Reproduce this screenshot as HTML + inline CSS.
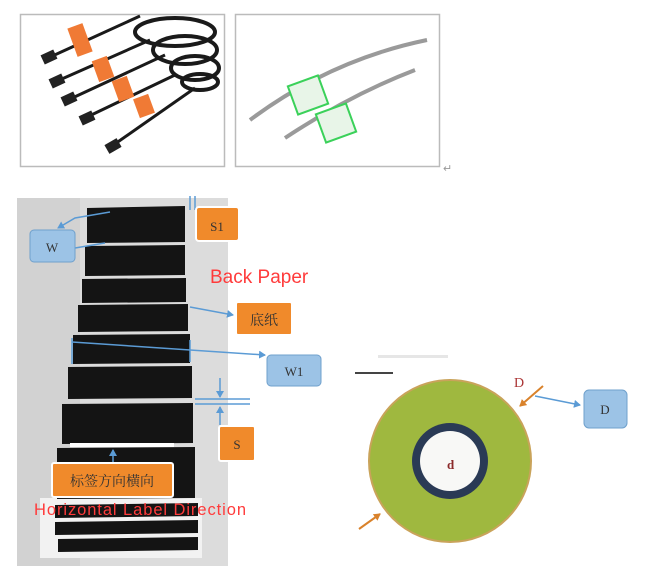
<!DOCTYPE html>
<html><head><meta charset="utf-8"><style>
html,body{margin:0;padding:0;background:#fff;width:650px;height:571px;overflow:hidden}
svg{display:block}
text{font-family:"Liberation Serif","Noto Serif CJK SC",serif}
text.sans{font-family:"Liberation Sans",sans-serif}
</style></head><body>
<svg width="650" height="571" viewBox="0 0 650 571" xmlns="http://www.w3.org/2000/svg">
<defs>
<marker id="ab" markerWidth="8" markerHeight="8" refX="6" refY="4" orient="auto" markerUnits="userSpaceOnUse"><path d="M0,0 L7,4 L0,8 Z" fill="#5b9bd5"/></marker>
<marker id="ao" markerWidth="8" markerHeight="8" refX="6" refY="4" orient="auto" markerUnits="userSpaceOnUse"><path d="M0,0 L7,4 L0,8 Z" fill="#d9822b"/></marker>
</defs>
<!-- top photo 1 -->
<rect x="20.5" y="14.5" width="204" height="152" fill="#fff" stroke="#bbb" stroke-width="1.5"/>
<g fill="none" stroke="#1a1a1a" stroke-width="4">
<ellipse cx="175" cy="32" rx="40" ry="14"/>
<ellipse cx="185" cy="50" rx="32" ry="14"/>
<ellipse cx="195" cy="68" rx="24" ry="12"/>
<ellipse cx="200" cy="82" rx="18" ry="8"/>
</g>
<g stroke="#1a1a1a" stroke-width="3" fill="none">
<path d="M48,58 L140,16"/><path d="M55,82 L150,40"/><path d="M68,100 L165,55"/><path d="M85,118 L175,75"/><path d="M112,146 L195,88"/>
</g>
<g fill="#222">
<rect x="42" y="52" width="14" height="10" transform="rotate(-25 49 57)"/>
<rect x="50" y="76" width="14" height="10" transform="rotate(-25 57 81)"/>
<rect x="62" y="94" width="14" height="10" transform="rotate(-25 69 99)"/>
<rect x="80" y="113" width="14" height="10" transform="rotate(-25 87 118)"/>
<rect x="106" y="141" width="14" height="10" transform="rotate(-30 113 146)"/>
</g>
<g fill="#f07a35">
<rect x="72" y="25" width="16" height="30" transform="rotate(-20 80 40)"/>
<rect x="95" y="58" width="16" height="22" transform="rotate(-20 103 69)"/>
<rect x="115" y="78" width="16" height="22" transform="rotate(-20 123 89)"/>
<rect x="136" y="96" width="16" height="20" transform="rotate(-20 144 106)"/>
</g>
<!-- top photo 2 -->
<rect x="235.5" y="14.5" width="204" height="152" fill="#fff" stroke="#bbb" stroke-width="1.5"/>
<g fill="none" stroke="#9a9a9a" stroke-width="4">
<path d="M250,120 Q330,60 427,40"/><path d="M285,138 Q350,95 415,70"/>
</g>
<g fill="#e8f5e8" stroke="#3bd15a" stroke-width="2">
<rect x="292" y="80" width="32" height="30" transform="rotate(-20 308 95)"/>
<rect x="320" y="108" width="32" height="30" transform="rotate(-20 336 123)"/>
</g>
<text x="443" y="172" font-size="11" fill="#999" class="sans">↵</text>
<!-- left photo -->
<rect x="17" y="198" width="211" height="368" fill="#d2d2d2"/>
<rect x="80" y="198" width="148" height="368" fill="#dcdcdc"/>
<rect x="40" y="498" width="162" height="60" fill="#f2f2f2"/>
<g fill="#141414">
<polygon points="87,208 185,206 185,242 87,243"/>
<polygon points="85,246 185,245 185,275 85,276"/>
<polygon points="82,279 186,278 186,302 82,303"/>
<polygon points="78,305 188,304 188,331 78,332"/>
<polygon points="73,335 190,334 190,363 73,364"/>
<polygon points="68,367 192,366 192,398 68,399"/>
<polygon points="62,404 193,403 193,443 62,444"/>
<polygon points="57,448 195,447 195,498 57,499"/>
<polygon points="55,505 198,503 198,516 55,518"/>
<polygon points="55,522 198,520 198,533 55,535"/>
<polygon points="58,539 198,537 198,550 58,552"/>
</g>
<rect x="70" y="443" width="104" height="4" fill="#fff"/>
<!-- blue lines -->
<g stroke="#5b9bd5" stroke-width="1.5" fill="none">
<path d="M110,212 L75,218 L58,228" marker-end="url(#ab)"/>
<path d="M75,248 L105,243"/>
<path d="M190,196 L190,210 M195,196 L195,210"/>
<path d="M190,307 L233,315" marker-end="url(#ab)"/>
<path d="M72,342 L265,355" marker-end="url(#ab)"/>
<path d="M72,338 L72,364 M190,340 L190,362"/>
<path d="M195,399 L250,399 M195,404 L250,404"/>
<path d="M220,378 L220,397" marker-end="url(#ab)"/>
<path d="M220,425 L220,407" marker-end="url(#ab)"/>
<path d="M113,462 L113,450" marker-end="url(#ab)"/>
</g>
<!-- boxes -->
<rect x="30" y="230" width="45" height="32" rx="4" fill="#9cc3e6" stroke="#6fa0cc"/>
<text x="52" y="252" font-size="13" text-anchor="middle" fill="#333">W</text>
<rect x="196" y="207" width="43" height="34" rx="3" fill="#f08a2b" stroke="#fff" stroke-width="2"/>
<text x="217" y="231" font-size="13" text-anchor="middle" fill="#333">S1</text>
<rect x="236" y="302" width="56" height="33" rx="2" fill="#f08a2b" stroke="#fff" stroke-width="2"/>
<text x="264" y="325" font-size="14" text-anchor="middle" fill="#333">底纸</text>
<rect x="267" y="355" width="54" height="31" rx="4" fill="#9cc3e6" stroke="#6fa0cc"/>
<text x="294" y="376" font-size="13" text-anchor="middle" fill="#333">W1</text>
<rect x="219" y="426" width="36" height="35" rx="2" fill="#f08a2b" stroke="#fff" stroke-width="2"/>
<text x="237" y="449" font-size="13" text-anchor="middle" fill="#333">S</text>
<rect x="52" y="463" width="121" height="34" rx="2" fill="#f08a2b" stroke="#fff" stroke-width="2"/>
<text x="112" y="486" font-size="14" text-anchor="middle" fill="#333">标签方向横向</text>
<text x="210" y="283" font-size="19" fill="#ff3b3b" class="sans">Back Paper</text>
<text x="34" y="515" font-size="16.5" fill="#ff3b3b" class="sans" textLength="212">Horizontal Label Direction</text>
<!-- ring -->
<rect x="355" y="372" width="38" height="2" fill="#444"/>
<rect x="378" y="355" width="70" height="3" fill="#e6e6e6"/>
<circle cx="450" cy="461" r="81" fill="#9fb83f" stroke="#c9a35a" stroke-width="2"/>
<circle cx="450" cy="461" r="38" fill="#2a3a55"/>
<circle cx="450" cy="461" r="30" fill="#f8f8f6"/>
<text x="447" y="469" font-size="13" fill="#8b2a2a" font-weight="bold">d</text>
<text x="514" y="387" font-size="14" fill="#a33">D</text>
<g stroke="#d9822b" stroke-width="2" fill="none">
<path d="M543,386 L520,406" marker-end="url(#ao)"/>
<path d="M359,529 L380,514" marker-end="url(#ao)"/>
</g>
<path d="M535,396 L580,405" stroke="#5b9bd5" stroke-width="1.5" fill="none" marker-end="url(#ab)"/>
<rect x="584" y="390" width="43" height="38" rx="5" fill="#9cc3e6" stroke="#6fa0cc"/>
<text x="605" y="414" font-size="13" text-anchor="middle" fill="#333">D</text>
</svg>
</body></html>
